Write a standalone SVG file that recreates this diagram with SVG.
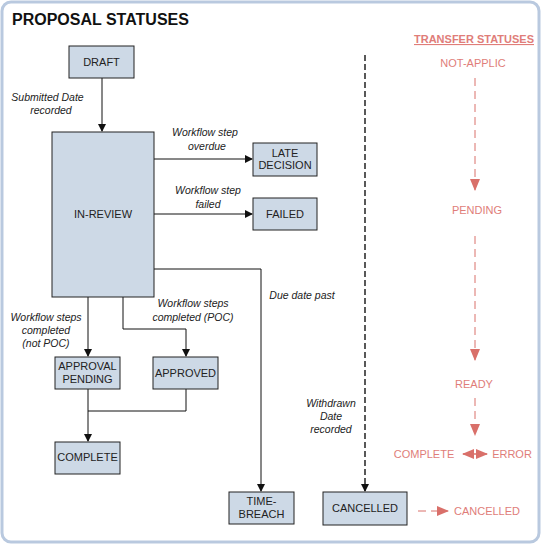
<svg xmlns="http://www.w3.org/2000/svg" width="541" height="544" viewBox="0 0 541 544">
<style>
.box{fill:#cdd9e6;stroke:#222;stroke-width:1}
.bt{font-family:"Liberation Sans",Arial,sans-serif;font-size:11px;fill:#222;text-anchor:middle}
.lb{font-family:"Liberation Sans",Arial,sans-serif;font-size:10.5px;font-style:italic;fill:#222;text-anchor:middle}
.ln{fill:none;stroke:#111;stroke-width:1}
.tr{font-family:"Liberation Sans",Arial,sans-serif;font-size:11px;fill:#e07d79;text-anchor:middle}
.rl{fill:none;stroke:#d9706a;stroke-width:1;stroke-dasharray:8,5}
</style>
<defs>
<marker id="ah" markerWidth="8" markerHeight="8" refX="7" refY="4" orient="auto" markerUnits="userSpaceOnUse"><path d="M0,0 L8,4 L0,8 Z" fill="#111"/></marker>
<marker id="rh" markerWidth="12" markerHeight="10" refX="11" refY="5" orient="auto" markerUnits="userSpaceOnUse"><path d="M0,0 L12,5 L0,10 Z" fill="#d9706a"/></marker>
<marker id="rs" markerWidth="12" markerHeight="10" refX="1" refY="5" orient="auto" markerUnits="userSpaceOnUse"><path d="M12,0 L0,5 L12,10 Z" fill="#d9706a"/></marker>
</defs>
<rect x="2" y="2" width="537" height="540" rx="9" fill="#fff" stroke="#b9c9df" stroke-width="3"/>
<text x="12" y="25" font-family="Liberation Sans,Arial,sans-serif" font-size="16" font-weight="bold" fill="#111">PROPOSAL STATUSES</text>

<g id="connectors">
<path class="ln" d="M102,78 V131" marker-end="url(#ah)"/>
<path class="ln" d="M154,159 H252" marker-end="url(#ah)"/>
<path class="ln" d="M154,214 H252" marker-end="url(#ah)"/>
<path class="ln" d="M154,269 H261 V491" marker-end="url(#ah)"/>
<path class="ln" d="M88,297 V356" marker-end="url(#ah)"/>
<path class="ln" d="M123,297 V329 H186 V356" marker-end="url(#ah)"/>
<path class="ln" d="M88,389 V441" marker-end="url(#ah)"/>
<path class="ln" d="M186,389 V411 H88"/>
<path fill="none" stroke="#000" stroke-width="1.3" d="M365,55 V491" stroke-dasharray="6,3" marker-end="url(#ah)"/>
<text class="lb"><tspan x="47.5" y="101">Submitted Date</tspan><tspan x="51" y="114">recorded</tspan></text>
<text class="lb"><tspan x="205" y="136">Workflow step</tspan><tspan x="207" y="150">overdue</tspan></text>
<text class="lb"><tspan x="208" y="194">Workflow step</tspan><tspan x="208" y="208">failed</tspan></text>
<text class="lb" x="302" y="299">Due date past</text>
<text class="lb"><tspan x="193" y="307">Workflow steps</tspan><tspan x="193" y="321">completed (POC)</tspan></text>
<text class="lb"><tspan x="46" y="321">Workflow steps</tspan><tspan x="46" y="334">completed</tspan><tspan x="46" y="347">(not POC)</tspan></text>
<text class="lb"><tspan x="331" y="407">Withdrawn</tspan><tspan x="331" y="420">Date</tspan><tspan x="331" y="433">recorded</tspan></text>
</g>

<g id="draft"><rect class="box" x="69" y="46" width="65" height="32"/><text class="bt" x="101.5" y="66">DRAFT</text></g>
<g id="in-review"><rect class="box" x="52" y="132" width="102" height="165"/><text class="bt" x="103" y="218">IN-REVIEW</text></g>
<g id="late-decision"><rect class="box" x="253" y="143" width="64" height="33"/><text class="bt"><tspan x="285" y="157">LATE</tspan><tspan x="285" y="169">DECISION</tspan></text></g>
<g id="failed"><rect class="box" x="253" y="198" width="64" height="32"/><text class="bt" x="285" y="218">FAILED</text></g>
<g id="approval-pending"><rect class="box" x="55" y="357" width="65" height="32"/><text class="bt"><tspan x="87.5" y="370">APPROVAL</tspan><tspan x="87.5" y="383">PENDING</tspan></text></g>
<g id="approved"><rect class="box" x="153" y="357" width="65" height="32"/><text class="bt" x="185.5" y="377">APPROVED</text></g>
<g id="complete"><rect class="box" x="55" y="442" width="65" height="32"/><text class="bt" x="87.5" y="461">COMPLETE</text></g>
<g id="time-breach"><rect class="box" x="229" y="492" width="65" height="32"/><text class="bt"><tspan x="261.5" y="505">TIME-</tspan><tspan x="261.5" y="518">BREACH</tspan></text></g>
<g id="cancelled"><rect class="box" x="323" y="492" width="84" height="33"/><text class="bt" x="365" y="512">CANCELLED</text></g>

<g id="transfer">
<text class="tr" x="474" y="43" font-weight="bold" text-decoration="underline">TRANSFER STATUSES</text>
<text class="tr" x="473" y="67">NOT-APPLIC</text>
<text class="tr" x="477" y="214">PENDING</text>
<text class="tr" x="474" y="388">READY</text>
<text class="tr" x="424" y="458">COMPLETE</text>
<text class="tr" x="512" y="458">ERROR</text>
<text class="tr" x="487" y="515">CANCELLED</text>
<path class="rl" d="M475,78 V190" marker-end="url(#rh)"/>
<path class="rl" d="M475,236 V360" marker-end="url(#rh)"/>
<path class="rl" d="M475,398 V435" marker-end="url(#rh)"/>
<path fill="none" stroke="#d9706a" stroke-width="1.5" d="M463,454 H487" marker-start="url(#rs)" marker-end="url(#rh)"/>
<path class="rl" d="M418,511 H448" marker-end="url(#rh)"/>
</g>
</svg>
